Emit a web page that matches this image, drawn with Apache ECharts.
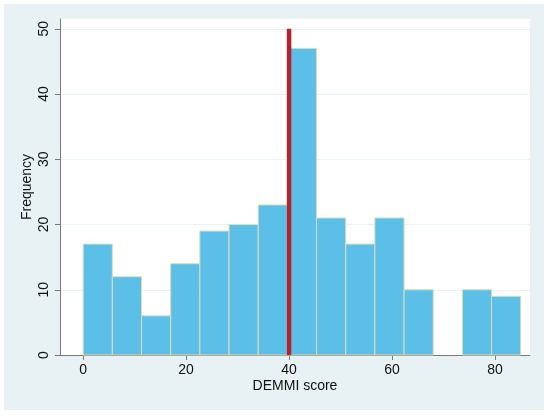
<!DOCTYPE html>
<html>
<head>
<meta charset="utf-8">
<script src="https://cdn.jsdelivr.net/npm/echarts@6/dist/echarts.min.js"></script>
<style>html,body{margin:0;padding:0;background:#fff;}#c{width:550px;height:416px;}</style>
</head>
<body>
<div id="c"></div>
<script>
var binStart = 0;
var binWidth = 85 / 15;
var counts = [17, 12, 6, 14, 19, 20, 23, 47, 21, 17, 21, 10, 0, 10, 9];
var xTicks = [0, 20, 40, 60, 80];
var yTicks = [0, 10, 20, 30, 40, 50];
var cutoffX = 40;
var cutoffTop = 50;

var barData = counts.map(function (c, i) {
  return [binStart + i * binWidth, binStart + (i + 1) * binWidth, c];
});

var chart = echarts.init(document.getElementById('c'), null, {renderer: 'canvas'});
chart.setOption({
  animation: false,
  backgroundColor: '#ffffff',
  graphic: [{
    type: 'rect', z: -10, silent: true,
    shape: {x: 4, y: 4, width: 540, height: 406},
    style: {fill: '#e8f2f4'}
  }],
  grid: {
    left: 60, right: 20, top: 19, bottom: 61,
    show: true, backgroundColor: '#ffffff', borderWidth: 0, containLabel: false
  },
  xAxis: {
    type: 'value', min: -4.5, max: 86.8,
    name: 'DEMMI score', nameLocation: 'middle', nameGap: 24, nameMoveOverlap: false,
    nameTextStyle: {color: '#111', fontSize: 14, fontFamily: 'Liberation Sans'},
    axisLine: {show: true, onZero: false, lineStyle: {color: '#7a7a7a', width: 1}},
    axisTick: {show: true, length: 5, lineStyle: {color: '#7a7a7a'}, customValues: xTicks},
    axisLabel: {color: '#111', fontSize: 14, fontFamily: 'Liberation Sans', margin: 8, customValues: xTicks},
    splitLine: {show: false}
  },
  yAxis: {
    type: 'value', min: 0, max: 51.5,
    name: 'Frequency', nameLocation: 'middle', nameGap: 26, nameRotate: 90, nameMoveOverlap: false,
    nameTextStyle: {color: '#111', fontSize: 14, fontFamily: 'Liberation Sans'},
    axisLine: {show: true, onZero: false, lineStyle: {color: '#7a7a7a', width: 1}},
    axisTick: {show: true, length: 5, lineStyle: {color: '#7a7a7a'}, customValues: yTicks},
    axisLabel: {color: '#111', fontSize: 14, fontFamily: 'Liberation Sans', rotate: 90, margin: 9, customValues: yTicks},
    splitLine: {show: true, lineStyle: {color: '#eaf2f3', width: 1}}
  },
  series: [{
    type: 'custom',
    data: barData,
    encode: {x: [0, 1], y: 2},
    renderItem: function (params, api) {
      if (api.value(2) <= 0) return null;
      var p0 = api.coord([api.value(0), 0]);
      var p1 = api.coord([api.value(1), api.value(2)]);
      return {
        type: 'rect',
        shape: {x: p0[0], y: p1[1], width: p1[0] - p0[0], height: p0[1] - p1[1]},
        style: {fill: '#5bbfe8', stroke: '#e2dbb5', lineWidth: 1}
      };
    }
  }, {
    type: 'line',
    data: [[cutoffX, 0], [cutoffX, cutoffTop]],
    symbol: 'none',
    lineStyle: {color: '#b0232f', width: 4.5},
    z: 5
  }]
});
</script>
</body>
</html>
